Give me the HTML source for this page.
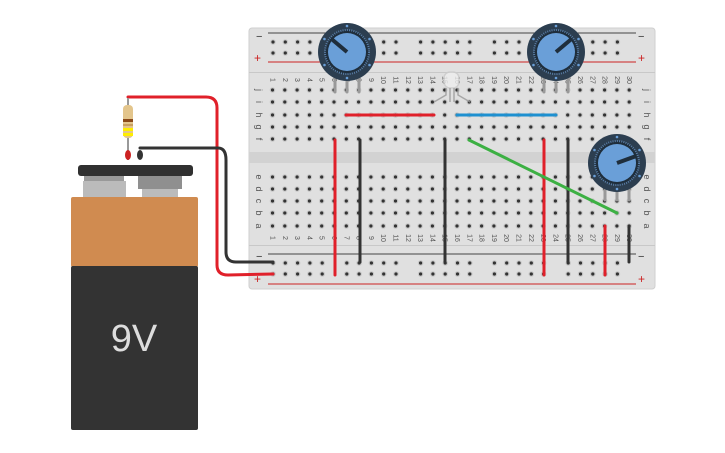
<!DOCTYPE html>
<html><head><meta charset="utf-8"><style>
html,body{margin:0;padding:0;background:#fff;width:725px;height:453px;overflow:hidden}
svg{display:block}
text{font-family:"Liberation Sans",sans-serif}
</style></head><body>
<svg id="s" width="725" height="453" viewBox="0 0 725 453" xmlns="http://www.w3.org/2000/svg">
<rect x="249" y="28" width="406" height="261" rx="3" fill="#e0e0e0" stroke="#cfcfcf"/>
<rect x="249" y="72" width="406" height="1" fill="#c8c8c8"/>
<rect x="249" y="245" width="406" height="1" fill="#c8c8c8"/>
<rect x="249" y="152" width="406" height="11" fill="#d2d2d2"/>
<line x1="268" y1="33" x2="636" y2="33" stroke="#444" stroke-width="1"/>
<line x1="268" y1="62" x2="636" y2="62" stroke="#c22" stroke-width="1"/>
<line x1="268" y1="254" x2="636" y2="254" stroke="#444" stroke-width="1"/>
<line x1="268" y1="284" x2="636" y2="284" stroke="#c22" stroke-width="1"/>
<text x="256" y="40" font-size="11" fill="#333">−</text>
<text x="254" y="62" font-size="12" fill="#c22">+</text>
<text x="638" y="40" font-size="11" fill="#333">−</text>
<text x="638" y="62" font-size="12" fill="#c22">+</text>
<text x="256" y="260" font-size="11" fill="#333">−</text>
<text x="254" y="283" font-size="12" fill="#c22">+</text>
<text x="638" y="260" font-size="11" fill="#333">−</text>
<text x="638" y="283" font-size="12" fill="#c22">+</text>
<g id="holes"></g>
<g id="labels" font-size="7" fill="#555"></g>
<g stroke="#999" stroke-width="1.5" fill="none" opacity="0.8">
<rect x="444" y="72" width="15" height="16" rx="6" fill="#eee" stroke="#ccc"/>
<path d="M446 88 L446 95 L434 102"/><path d="M450 88 L450 102"/><path d="M454 88 L454 102"/><path d="M458 88 L458 95 L470 102"/>
</g>
<g stroke-linecap="round" stroke-width="3" fill="none">
<line x1="346" y1="115" x2="434" y2="115" stroke="#e0202a"/>
<line x1="457" y1="115" x2="556" y2="115" stroke="#1e90d0"/>
<line x1="335" y1="140" x2="335" y2="275" stroke="#e0202a"/>
<line x1="360" y1="140" x2="360" y2="262" stroke="#333"/>
<line x1="445" y1="140" x2="445" y2="262" stroke="#333"/>
<line x1="544" y1="140" x2="544" y2="275" stroke="#e0202a"/>
<line x1="568" y1="140" x2="568" y2="262" stroke="#333"/>
<line x1="605" y1="226" x2="605" y2="275" stroke="#e0202a"/>
<line x1="629" y1="226" x2="629" y2="262" stroke="#333"/>
<line x1="469" y1="140" x2="617" y2="213" stroke="#3cb043"/>
<path d="M128 97 H206 Q217 97 217 108 V265 Q217 275 228 275 L273 274" stroke="#e0202a"/>
<path d="M140 148 H218 Q226 148 226 160 V252 Q226 262 236 262 L273 262" stroke="#333"/>
</g>
<g id="pots"></g>
<rect x="84" y="176" width="40" height="7" fill="#999"/>
<rect x="83" y="181" width="43" height="16" fill="#bbb"/>
<rect x="138" y="176" width="44" height="13" fill="#8f8f8f"/>
<rect x="142" y="189" width="36" height="8" fill="#bbb"/>
<rect x="78" y="165" width="115" height="11" rx="3" fill="#303030"/>
<rect x="71" y="197" width="127" height="70" rx="2" fill="#d08b50"/>
<rect x="71" y="266" width="127" height="164" rx="2" fill="#333"/>
<text x="134" y="351" font-size="38" fill="#ddd" text-anchor="middle" font-family="DejaVu Sans, sans-serif">9V</text>
<line x1="128" y1="98" x2="128" y2="160" stroke="#999" stroke-width="2"/>
<rect x="123" y="105" width="10" height="33" rx="4" fill="#e3c58c"/>
<rect x="123" y="119" width="10" height="3" fill="#8a4a1a"/>
<rect x="123" y="124" width="10" height="2" fill="#c9a060"/>
<rect x="123" y="128" width="10" height="3" fill="#ffee00"/>
<rect x="123" y="133" width="10" height="3" fill="#ffee00"/>
<ellipse cx="128" cy="155" rx="3" ry="5" fill="#c22"/>
<ellipse cx="140" cy="155" rx="3" ry="5" fill="#333"/>
</svg>
<script>
var ns="http://www.w3.org/2000/svg",H=document.getElementById("holes"),L=document.getElementById("labels"),P=document.getElementById("pots");
function el(t,a,p){var e=document.createElementNS(ns,t);for(var k in a)e.setAttribute(k,a[k]);(p||H).appendChild(e);return e;}
function cx(c){return 272.5+(c-1)*12.3;}
function hole(x,y){el("circle",{cx:x,cy:y,r:2.8,fill:"#c8c8c8"});el("circle",{cx:x,cy:y,r:1.6,fill:"#333"});}
var rows=[90,102,115,127,139,177,189,201,213,226];
for(var c=1;c<=30;c++){for(var r=0;r<rows.length;r++)hole(cx(c),rows[r]);
var t=el("text",{x:0,y:0,"text-anchor":"middle",transform:"translate("+(cx(c)-2)+",80) rotate(90)"},L);t.textContent=c;
var t2=el("text",{x:0,y:0,"text-anchor":"middle",transform:"translate("+(cx(c)-2)+",238) rotate(90)"},L);t2.textContent=c;}
var letters="jihgfedcba";
for(var r=0;r<10;r++){[256,644].forEach(function(x){var t=el("text",{x:0,y:0,"text-anchor":"middle","font-size":"9",transform:"translate("+x+","+rows[r]+") rotate(90)"},L);t.textContent=letters[r];});}
var rc=[];for(var g=0;g<5;g++)for(var k=0;k<5;k++)rc.push(273+g*6*12.3+k*12.3);
rc.forEach(function(x){[42,53,263,274].forEach(function(y){hole(x,y);});});
function pot(x,y,ang,legsY){for(var i=-1;i<=1;i++)el("line",{x1:x+i*12,y1:y+20,x2:x+i*12,y2:legsY,stroke:"#999","stroke-width":3,"stroke-linecap":"round"},P);
el("circle",{cx:x,cy:y,r:29,fill:"#2c3e50"},P);el("circle",{cx:x,cy:y,r:22,fill:"#1f2e3c",stroke:"#5a7fa8","stroke-width":2,"stroke-dasharray":"1 1.2"},P);
el("circle",{cx:x,cy:y,r:19,fill:"#6a9fd8"},P);var a=ang*Math.PI/180;
el("line",{x1:x,y1:y,x2:x+20*Math.cos(a),y2:y+20*Math.sin(a),stroke:"#1f2e3c","stroke-width":4},P);
for(var k=0;k<6;k++){var b=k*Math.PI/3-Math.PI/2;el("circle",{cx:x+26*Math.cos(b),cy:y+26*Math.sin(b),r:1.3,fill:"#6a9fd8"},P);}}
pot(347,52,-140,92);pot(556,52,-40,92);pot(617,163,-20,200);
</script>
</body></html>
